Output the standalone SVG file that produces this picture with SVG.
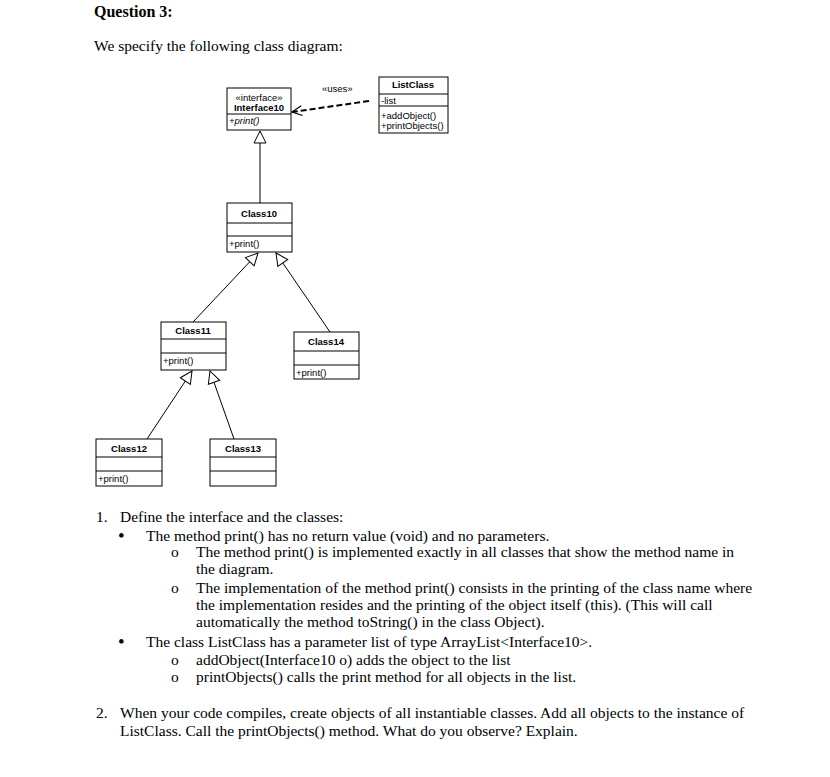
<svg xmlns="http://www.w3.org/2000/svg" width="830" height="777" viewBox="0 0 830 777">
<style>
.box{fill:#fff;stroke:#000;stroke-width:1}
.sep{stroke:#000;stroke-width:1}
.cn{font-family:"Liberation Sans",Arial,sans-serif;font-size:9.5px;font-weight:bold;text-anchor:middle}
.m{font-family:"Liberation Sans",Arial,sans-serif;font-size:9.5px}
.t{font-family:"Liberation Serif","Times New Roman",serif;font-size:15.5px}
.h{font-family:"Liberation Serif","Times New Roman",serif;font-size:16px;font-weight:bold}
.b{font-size:19px}
.gen{fill:none;stroke:#000;stroke-width:1}
</style>
<defs>
<marker id="tri" markerUnits="userSpaceOnUse" markerWidth="14" markerHeight="14" refX="12" refY="6" orient="auto" viewBox="-1 -1 14 14">
<path d="M0,0 L12,6 L0,12 Z" fill="#fff" stroke="#000" stroke-width="1"/>
</marker>
<marker id="open" markerUnits="userSpaceOnUse" markerWidth="12" markerHeight="12" refX="10" refY="5" orient="auto" viewBox="-1 -1 12 12">
<path d="M0,0 L10,5 L0,10" fill="none" stroke="#000" stroke-width="1.2"/>
</marker>
</defs>
<rect width="830" height="777" fill="#fff"/>
<text class="h" x="94" y="17">Question 3:</text>
<text class="t" x="94" y="51">We specify the following class diagram:</text>

<g id="connectors">
<line class="gen" x1="260" y1="203" x2="260" y2="131" marker-end="url(#tri)"/>
<line class="gen" x1="193" y1="322" x2="258" y2="253" marker-end="url(#tri)"/>
<line class="gen" x1="330" y1="332" x2="276" y2="253" marker-end="url(#tri)"/>
<line class="gen" x1="147" y1="439" x2="192" y2="371" marker-end="url(#tri)"/>
<line class="gen" x1="234" y1="439" x2="210" y2="371" marker-end="url(#tri)"/>
<line x1="369" y1="101" x2="292" y2="112" stroke="#000" stroke-width="2" stroke-dasharray="6,3" marker-end="url(#open)"/>
<text class="m" x="322" y="92" font-size="8.5">«uses»</text>
</g>

<g id="Interface10">
<rect class="box" x="227" y="88" width="64" height="42"/>
<line class="sep" x1="227" y1="114" x2="291" y2="114"/>
<text class="m" x="259" y="101" text-anchor="middle" font-size="8.5">«interface»</text>
<text class="cn" x="259" y="111">Interface10</text>
<text class="m" x="229" y="124" font-style="italic">+print()</text>
</g>

<g id="ListClass">
<rect class="box" x="379" y="77" width="69" height="56"/>
<line class="sep" x1="379" y1="94" x2="448" y2="94"/>
<line class="sep" x1="379" y1="106" x2="448" y2="106"/>
<text class="cn" x="413" y="88">ListClass</text>
<text class="m" x="381" y="104">-list</text>
<text class="m" x="381" y="119">+addObject()</text>
<text class="m" x="381" y="129">+printObjects()</text>
</g>

<g id="Class10">
<rect class="box" x="227" y="203" width="65" height="49"/>
<line class="sep" x1="227" y1="223" x2="292" y2="223"/>
<line class="sep" x1="227" y1="236" x2="292" y2="236"/>
<text class="cn" x="259" y="217">Class10</text>
<text class="m" x="229" y="247">+print()</text>
</g>

<g id="Class11">
<rect class="box" x="161" y="322" width="65" height="48"/>
<line class="sep" x1="161" y1="339" x2="226" y2="339"/>
<line class="sep" x1="161" y1="353" x2="226" y2="353"/>
<text class="cn" x="193" y="334">Class11</text>
<text class="m" x="163" y="364">+print()</text>
</g>

<g id="Class14">
<rect class="box" x="294" y="332" width="65" height="47"/>
<line class="sep" x1="294" y1="351" x2="359" y2="351"/>
<line class="sep" x1="294" y1="365" x2="359" y2="365"/>
<text class="cn" x="326" y="345">Class14</text>
<text class="m" x="296" y="376">+print()</text>
</g>

<g id="Class12">
<rect class="box" x="96" y="439" width="66" height="47"/>
<line class="sep" x1="96" y1="457" x2="162" y2="457"/>
<line class="sep" x1="96" y1="471" x2="162" y2="471"/>
<text class="cn" x="129" y="452">Class12</text>
<text class="m" x="98" y="482">+print()</text>
</g>

<g id="Class13">
<rect class="box" x="210" y="439" width="66" height="47"/>
<line class="sep" x1="210" y1="457" x2="276" y2="457"/>
<line class="sep" x1="210" y1="471" x2="276" y2="471"/>
<text class="cn" x="243" y="452">Class13</text>
</g>

<g id="questions" class="t">
<text x="96" y="522">1.</text>
<text x="120" y="522">Define the interface and the classes:</text>
<text class="b" x="118" y="542">•</text>
<text x="146" y="541">The method print() has no return value (void) and no parameters.</text>
<text x="171" y="557">o</text>
<text x="196" y="557">The method print() is implemented exactly in all classes that show the method name in</text>
<text x="196" y="574">the diagram.</text>
<text x="171" y="593">o</text>
<text x="196" y="593">The implementation of the method print() consists in the printing of the class name where</text>
<text x="196" y="610">the implementation resides and the printing of the object itself (this). (This will call</text>
<text x="196" y="627">automatically the method toString() in the class Object).</text>
<text class="b" x="118" y="648">•</text>
<text x="146" y="647">The class ListClass has a parameter list of type ArrayList&lt;Interface10&gt;.</text>
<text x="171" y="665">o</text>
<text x="196" y="665">addObject(Interface10 o) adds the object to the list</text>
<text x="171" y="682">o</text>
<text x="196" y="682">printObjects() calls the print method for all objects in the list.</text>
<text x="96" y="718">2.</text>
<text x="120" y="718">When your code compiles, create objects of all instantiable classes. Add all objects to the instance of</text>
<text x="120" y="736">ListClass. Call the printObjects() method. What do you observe? Explain.</text>
</g>
</svg>
